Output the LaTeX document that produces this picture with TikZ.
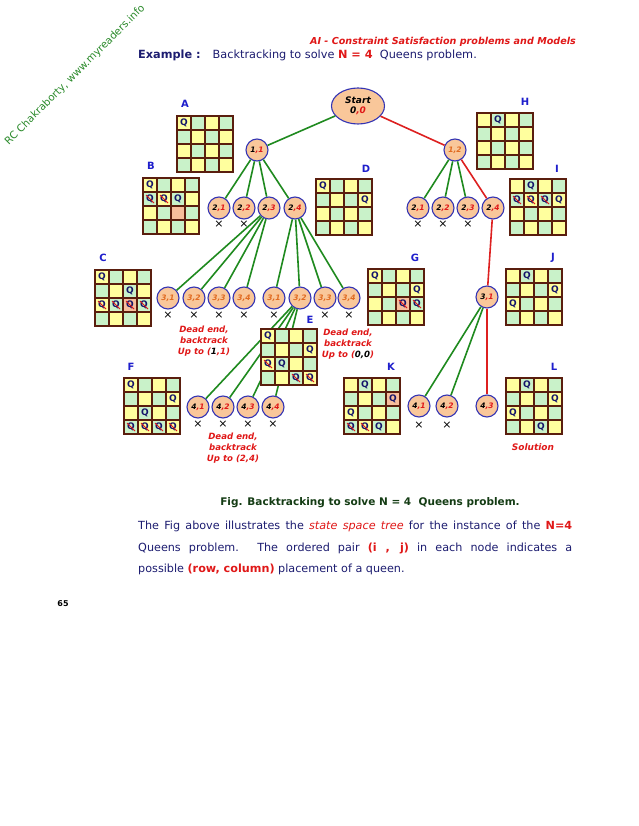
\documentclass[tikz,border=0pt]{standalone}
\usepackage{fontspec}
\setmainfont{DejaVu Sans}
\usetikzlibrary{shapes.geometric}
\definecolor{cy}{HTML}{FFFF9E}
\definecolor{cgr}{HTML}{C9F2C9}
\definecolor{cbr}{HTML}{5A1E0E}
\definecolor{cpk}{HTML}{F7BE9C}
\definecolor{cnf}{HTML}{F9C79A}
\definecolor{cnb}{HTML}{3434B4}
\definecolor{ceg}{HTML}{1F8A1F}
\definecolor{cer}{HTML}{DD2020}
\definecolor{clb}{HTML}{1E1ECC}
\definecolor{cnv}{HTML}{1C1C70}
\definecolor{cq}{HTML}{15156A}
\definecolor{cdg}{HTML}{143C14}
\definecolor{cwm}{HTML}{2A8A2A}
\definecolor{cred}{HTML}{E01818}
\definecolor{cor}{HTML}{E06A20}
\tikzset{
 qn/.style={circle, draw=cnb, line width=1.1pt, fill=cnf, minimum size=22pt, inner sep=0pt, font=\fontsize{7.5}{8}\selectfont\bfseries\itshape},
 ge/.style={ceg, line width=1.6pt},
 re/.style={cer, line width=1.6pt},
 xm/.style={inner sep=0pt, font=\fontsize{11}{11}\selectfont},
 lbl/.style={text=clb, inner sep=0pt, font=\fontsize{10}{10}\selectfont\bfseries},
 qq/.style={text=cq, inner sep=0pt, font=\fontsize{9}{9}\selectfont\bfseries},
 dead/.style={text=cred, inner sep=0pt, align=center, font=\fontsize{8.6}{11}\selectfont\bfseries\itshape},
 bline/.style={cbr, line width=1.4pt},
 bframe/.style={cbr, line width=2pt}
}
\newcommand\pr[2]{#1\textcolor{cred}{,#2}}
\newcommand\po[2]{\textcolor{cor}{#1,#2}}
\newcommand\bbg{\fill[cy] (0,0) rectangle (56,56);
 \foreach \cc/\rr in {1/0,3/0,0/1,2/1,1/2,3/2,0/3,2/3} {\fill[cgr] (\cc*14,\rr*14) rectangle ++(14,14);}}
\newcommand\bln{\foreach \ii in {14,28,42} {\draw[bline] (\ii,0) -- (\ii,56); \draw[bline] (0,\ii) -- (56,\ii);}
 \draw[bframe] (0,0) rectangle (56,56);}
\newcommand\Pk[2]{\fill[cpk] ({(#2-1)*14},{(#1-1)*14}) rectangle ++(14,14);}
\newcommand\Qn[3]{\node[qq] (#1q#2#3) at ({#3*14-7},{#2*14-7}) {Q};}
\newcommand\Qx[3]{\node[qq] (#1x#2#3) at ({#3*14-7},{#2*14-7}) {Q};
 \draw[cred, line width=0.8pt] ({#3*14-11},{#2*14-11}) -- ({#3*14-3},{#2*14-3});}
\begin{document}
\begin{tikzpicture}[x=1pt,y=-1pt]
\useasboundingbox (0,0) rectangle (638,826);
\fill[white] (0,0) rectangle (638,826);
% watermark and headers
\node[text=cwm, rotate=45, inner sep=0pt, font=\fontsize{10.3}{10}\selectfont] (wm) at (75,75) {RC Chakraborty, www.myreaders.info};
\node[text=cred, anchor=east, inner sep=0pt, font=\fontsize{9.6}{10}\selectfont\bfseries\itshape] (hdr) at (576,42) {AI - Constraint Satisfaction problems and Models};
\node[text=cnv, anchor=west, inner sep=0pt, font=\fontsize{11.3}{12}\selectfont] (ex) at (138,55) {{\bfseries Example :}\hspace{12pt}Backtracking to solve \textcolor{cred}{\bfseries N = 4}\ \ Queens problem.};
% tree nodes
\node[ellipse, draw=cnb, line width=1.1pt, fill=cnf, minimum width=53pt, minimum height=36pt, inner sep=0pt, align=center, font=\fontsize{9}{10}\selectfont\bfseries\itshape] (s) at (358,106) {Start\\0\textcolor{cred}{,0}};
\node[qn] (a1) at (257,150) {\pr11};
\node[qn] (a2) at (455,150) {\po12};
\node[qn] (b1) at (219,208) {\pr21};
\node[qn] (b2) at (244,208) {\pr22};
\node[qn] (b3) at (269,208) {\pr23};
\node[qn] (b4) at (295,208) {\pr24};
\node[qn] (c1) at (418,208) {\pr21};
\node[qn] (c2) at (443,208) {\pr22};
\node[qn] (c3) at (468,208) {\pr23};
\node[qn] (c4) at (493,208) {\pr24};
\node[qn] (d1) at (168,298) {\po31};
\node[qn] (d2) at (194,298) {\po32};
\node[qn] (d3) at (219,298) {\po33};
\node[qn] (d4) at (244,298) {\po34};
\node[qn] (e1) at (274,298) {\po31};
\node[qn] (e2) at (300,298) {\po32};
\node[qn] (e3) at (325,298) {\po33};
\node[qn] (e4) at (349,298) {\po34};
\node[qn] (f1) at (487,297) {\pr31};
\node[qn] (g1) at (198,407) {\pr41};
\node[qn] (g2) at (223,407) {\pr42};
\node[qn] (g3) at (248,407) {\pr43};
\node[qn] (g4) at (273,407) {\pr44};
\node[qn] (h1) at (419,406) {\pr41};
\node[qn] (h2) at (447,406) {\pr42};
\node[qn] (h3) at (487,406) {\pr43};
% edges
\draw[ge] (s) -- (a1);
\draw[re] (s) -- (a2);
\foreach \t in {b1,b2,b3,b4} {\draw[ge] (a1) -- (\t);}
\foreach \t in {c1,c2,c3} {\draw[ge] (a2) -- (\t);}
\draw[re] (a2) -- (c4);
\foreach \t in {d1,d2,d3,d4} {\draw[ge] (b3) -- (\t);}
\foreach \t in {e1,e2,e3,e4} {\draw[ge] (b4) -- (\t);}
\draw[re] (c4) -- (f1);
\foreach \t in {g1,g2,g3,g4} {\draw[ge] (e2) -- (\t);}
\draw[ge] (f1) -- (h1);
\draw[ge] (f1) -- (h2);
\draw[re] (f1) -- (h3);
% crosses
\foreach \t/\px/\py in {x1/219/224,x2/244/224,x3/418/224,x4/443/224,x5/468/224,
 x6/168/315,x7/194/315,x8/219/315,x9/244/315,x10/274/315,x11/325/315,x12/349/315,
 x13/198/424,x14/223/424,x15/248/424,x16/273/424,x17/419/425,x18/447/425}
 {\node[xm] (\t) at (\px,\py) {×};}
% boards
\begin{scope}[shift={(177,116)}] \bbg \bln \coordinate (A) at (28,28); \Qn A11 \end{scope}
\begin{scope}[shift={(143,178)}] \bbg \Pk33 \bln \coordinate (B) at (28,28); \Qn B11 \Qx B21 \Qx B22 \Qn B23 \end{scope}
\begin{scope}[shift={(95,270)}] \bbg \Pk33 \bln \coordinate (C) at (28,28); \Qn C11 \Qn C23 \Qx C31 \Qx C32 \Qx C33 \Qx C34 \end{scope}
\begin{scope}[shift={(316,179)}] \bbg \bln \coordinate (D) at (28,28); \Qn D11 \Qn D24 \end{scope}
\begin{scope}[shift={(261,329)}] \bbg \bln \coordinate (E) at (28,28); \Qn E11 \Qn E24 \Qx E31 \Qn E32 \Qx E43 \Qx E44 \end{scope}
\begin{scope}[shift={(124,378)}] \bbg \bln \coordinate (F) at (28,28); \Qn F11 \Qn F24 \Qn F32 \Qx F41 \Qx F42 \Qx F43 \Qx F44 \end{scope}
\begin{scope}[shift={(368,269)}] \bbg \Pk33 \bln \coordinate (G) at (28,28); \Qn G11 \Qn G24 \Qx G33 \Qx G34 \end{scope}
\begin{scope}[shift={(477,113)}] \bbg \bln \coordinate (H) at (28,28); \Qn H12 \end{scope}
\begin{scope}[shift={(510,179)}] \bbg \bln \coordinate (I) at (28,28); \Qn I12 \Qx I21 \Qx I22 \Qx I23 \Qn I24 \end{scope}
\begin{scope}[shift={(506,269)}] \bbg \bln \coordinate (J) at (28,28); \Qn J12 \Qn J24 \Qn J31 \end{scope}
\begin{scope}[shift={(344,378)}] \bbg \Pk24 \bln \coordinate (K) at (28,28); \Qn K12 \Qn K24 \Qn K31 \Qx K41 \Qx K42 \Qn K43 \end{scope}
\begin{scope}[shift={(506,378)}] \bbg \bln \coordinate (L) at (28,28); \Qn L12 \Qn L24 \Qn L31 \Qn L43 \end{scope}
% board labels
\node[lbl] (lA) at (185,104) {A};
\node[lbl] (lB) at (151,166) {B};
\node[lbl] (lC) at (103,258) {C};
\node[lbl] (lD) at (366,169) {D};
\node[lbl] (lE) at (310,320) {E};
\node[lbl] (lF) at (131,367) {F};
\node[lbl] (lG) at (415,258) {G};
\node[lbl] (lH) at (525,102) {H};
\node[lbl] (lI) at (557,169) {I};
\node[lbl] (lJ) at (553,258) {J};
\node[lbl] (lK) at (391,367) {K};
\node[lbl] (lL) at (554,367) {L};
% notes
\node[dead] (dd1) at (204,341) {Dead end,\\backtrack\\Up to (\textcolor{black}{1},1)};
\node[dead] (dd0) at (348,344) {Dead end,\\backtrack\\Up to (\textcolor{black}{0,0})};
\node[dead] (dd2) at (233,448) {Dead end,\\backtrack\\Up to (2,4)};
\node[text=cred, inner sep=0pt, font=\fontsize{9}{10}\selectfont\bfseries\itshape] (sol) at (533,447) {Solution};
% caption and paragraph
\node[text=cdg, inner sep=0pt, font=\fontsize{10.5}{11}\selectfont\bfseries] (cap) at (370,503) {Fig. Backtracking to solve N = 4\ \ Queens problem.};
\node[text=cnv, anchor=north west, inner sep=0pt, text width=434pt, align=justify, font=\fontsize{11.2}{21.5}\selectfont] (par) at (138,521)
 {The Fig above illustrates the \textcolor{cred}{\itshape state space tree} for the instance of the \textcolor{cred}{\bfseries N=4}\linebreak
 Queens problem. The ordered pair \textcolor{cred}{\bfseries (i , j)} in each node indicates a\linebreak
 possible \textcolor{cred}{\bfseries (row, column)} placement of a queen.};
\node[inner sep=0pt, font=\fontsize{8}{9}\selectfont\bfseries] (pg) at (63,604) {65};
\end{tikzpicture}
\end{document}
